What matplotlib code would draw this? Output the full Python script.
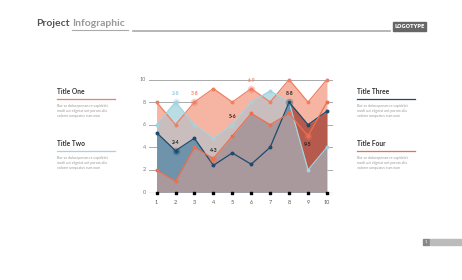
"""Project infographic: four overlapping area series."""
import matplotlib
matplotlib.use('Agg')
import matplotlib.pyplot as plt
from matplotlib.patches import Rectangle

plt.rcParams.update({
    'font.family': ['Lato', 'DejaVu Sans'],
})

# data
x_pos = [1, 2, 3, 4, 5, 6, 7, 8, 9, 10]
series_one = [8, 6, 8, 9.2, 8, 9.2, 8, 10, 8, 10]            # salmon
series_two = [6, 8, 6, 4.8, 6, 8, 9, 8, 2, 4]                # light blue
series_three = [5.3, 3.7, 4.8, 2.4, 3.5, 2.5, 4, 8, 6, 7.2]  # navy
series_four = [2, 1, 4, 3, 5, 7, 6, 7, 5, 8]                 # orange
y_ticks = [0, 2, 4, 6, 8, 10]

# point labels: (series index, x, text, direction)
point_labels = [
    (1, 2, '2-8', 'up'), (0, 3, '3-8', 'up'), (0, 6, '6-9', 'up'),
    (1, 5, '5-6', 'up'), (2, 8, '8-8', 'up'), (2, 2, '2-4', 'up'),
    (3, 4, '4-3', 'up'), (3, 9, '9-5', 'down'),
]

legend_titles = ['Title One', 'Title Two', 'Title Three', 'Title Four']
body = 'Bor se doloreperum re sapidebit\nmodi aut eligniat unt porum alia\nvolorer umquatus sum eum'

COLORS = ['#ef7f63', '#a3d4de', '#1d4a6c', '#ec6f4f']
LABEL_COLORS = {'2-8': '#8ccbd8', '3-8': '#ef7f63', '6-9': '#ef7f63'}

W, H = 462, 280
fig = plt.figure(figsize=(W / 100, H / 100), dpi=100)


def px(x, y):
    return x / W, 1 - y / H


# header
fig.text(*px(36, 26), 'Project', fontsize=7.5, fontweight='bold', color='#555555', va='baseline')
fig.text(*px(72, 26), 'Infographic', fontsize=7.5, fontweight='bold', color='#999999', va='baseline')
fig.add_artist(plt.Line2D([72 / W, 128 / W], [1 - 29.5 / H] * 2, color='#aaaaaa', lw=0.8))
fig.add_artist(plt.Line2D([133 / W, 390 / W], [1 - 30.5 / H] * 2, color='#aaaaaa', lw=1.2))
fig.add_artist(Rectangle(px(393, 30.5), 33 / W, 8.5 / H, color='#666666', transform=fig.transFigure))
fig.text(*px(409.5, 26.3), 'LOGOTYPE', fontsize=3.7, fontweight='bold', color='white',
         ha='center', va='center', family='DejaVu Sans')

# side texts
side = [(57, 94, 0), (57, 146, 1), (357, 94, 2), (357, 146, 3)]
for sx, sy, i in side:
    fig.text(*px(sx, sy), legend_titles[i], fontsize=4.8, fontweight='bold', color='#333333', va='baseline')
    fig.add_artist(plt.Line2D([sx / W, (sx + 58) / W], [1 - (sy + 5) / H] * 2, color=COLORS[i], lw=0.9))
    fig.text(*px(sx, sy + 10.5), body, fontsize=2.6, color='#999999', va='top', linespacing=1.3)

# footer
fig.add_artist(Rectangle(px(423, 245), 6 / W, 6 / H, color='#888888', transform=fig.transFigure))
fig.text(*px(426, 242), '1', fontsize=3, color='white', ha='center', va='center')
fig.add_artist(Rectangle(px(430, 245), 32 / W, 6 / H, color='#bbbbbb', transform=fig.transFigure))

# chart axes
x0, x1 = 149, 333
y_top, y_bot = 75, 192.5
ax = fig.add_axes([x0 / W, 1 - y_bot / H, (x1 - x0) / W, (y_bot - y_top) / H])
ax.set_xlim(0.6, 10.32)
ax.set_ylim(0, 10.4)
ax.axis('off')

for t in y_ticks:
    ax.axhline(t, color='#333333' if t == 0 else '#aaaaaa', lw=0.8 if t == 0 else 0.7, zorder=1)
    ax.text(0.45, t, str(t), fontsize=4, color='#777777', ha='right', va='center')
for xv in x_pos:
    ax.text(xv, -0.9, str(xv), fontsize=4, color='#555555', ha='center', va='center')
ax.scatter(x_pos, [0] * len(x_pos), s=3, color='black', marker='s', zorder=6, clip_on=False)

s1, s2, s3, s4 = series_one, series_two, series_three, series_four

# layered fills, mimicking the multiply-like overlaps of the design
ax.fill_between(x_pos, 0, s1, color='#f6b4a2', lw=0, zorder=2)
blue_poly = ax.fill_between(x_pos, 0, s2, color='#cabdbd', lw=0, zorder=2.1)
ax.fill_between(x_pos, s1, s2, where=[b > a for a, b in zip(s1, s2)], interpolate=True,
                color='#b9dde4', lw=0, zorder=2.1)
clip = blue_poly.get_paths()[0]
navy_fill = ax.fill_between(x_pos, 0, s3, color='#6f93ab', lw=0, zorder=2.2)
navy_fill.set_clip_path(clip, ax.transData)
orange_fill = ax.fill_between(x_pos, 0, s4, color='#a9999c', lw=0, zorder=2.3)
orange_fill.set_clip_path(clip, ax.transData)
ax.fill_between(x_pos, s2, s3, where=[n > b for b, n in zip(s2, s3)], interpolate=True,
                color='#b55a4c', lw=0, zorder=2.4)

all_series = [s1, s2, s3, s4]
for i, vals in enumerate(all_series):
    ax.plot(x_pos, vals, color=COLORS[i], lw=0.9, zorder=4)
    ax.scatter(x_pos, vals, s=8, color=COLORS[i], zorder=5, lw=0)

for si, xv, txt, d in point_labels:
    yv = all_series[si][xv - 1]
    ax.scatter([xv], [yv], s=30, color=COLORS[si], alpha=0.35, zorder=4.5, lw=0)
    off = 0.75 if d == 'up' else -0.75
    ax.text(xv, yv + off, txt, fontsize=3.5, fontweight='bold', color=LABEL_COLORS.get(txt, '#222222'),
            ha='center', va='center', zorder=7)

fig.savefig('out.png', dpi=100)
